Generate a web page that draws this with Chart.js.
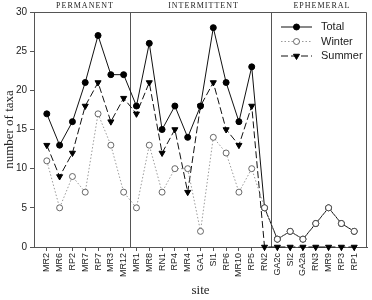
<!DOCTYPE html>
<html>
<head>
<meta charset="utf-8">
<script src="https://cdn.jsdelivr.net/npm/chart.js@4.4.0/dist/chart.umd.min.js"></script>
<style>
    html, body { margin: 0; padding: 0; background: #fff; }
    #wrap { width: 372px; height: 300px; position: relative; }
</style>
</head>
<body>
<div id="wrap"><canvas id="taxaChart"></canvas></div>
<script>
// Sites along the x axis, grouped by stream type
const sites = ['MR2', 'MR6', 'RP2', 'MR7', 'RP7', 'MR3', 'MR12',
               'MR1', 'MR8', 'RN1', 'RP4', 'MR4', 'GA1', 'SI1', 'RP6', 'MR10', 'RP5', 'RN2',
               'GA2c', 'SI2', 'GA2a', 'RN3', 'MR9', 'RP3', 'RP1'];
const totalTaxa  = [17, 13, 16, 21, 27, 22, 22, 18, 26, 15, 18, 14, 18, 28, 21, 16, 23, 5, 1, 2, 1, 3, 5, 3, 2];
const winterTaxa = [11, 5, 9, 7, 17, 13, 7, 5, 13, 7, 10, 10, 2, 14, 12, 7, 10, 5, 1, 2, 1, 3, 5, 3, 2];
const summerTaxa = [13, 9, 12, 18, 21, 16, 19, 17, 21, 12, 15, 7, 18, 21, 15, 13, 18, 0, 0, 0, 0, 0, 0, 0, 0];
const yTicks = [0, 5, 10, 15, 20, 25, 30];
const sections = ['PERMANENT', 'INTERMITTENT', 'EPHEMERAL'];
const sectionBreaks = [6.5, 17.5];

const axisColor = '#555';
const textColor = '#222';

function toPoints(values) {
    return values.map((v, i) => ({ x: i, y: v }));
}

// frame, section dividers, section names and the legend
const decorPlugin = {
    id: 'decor',
    beforeDatasetsDraw(chart) {
        const ctx = chart.ctx;
        const area = chart.chartArea;
        const xs = chart.scales.x;
        ctx.save();
        ctx.strokeStyle = axisColor;
        ctx.lineWidth = 1;
        ctx.beginPath();
        ctx.moveTo(area.left, area.top + 0.5);
        ctx.lineTo(area.right - 0.5, area.top + 0.5);
        ctx.lineTo(area.right - 0.5, area.bottom);
        sectionBreaks.forEach(b => {
            const px = Math.round(xs.getPixelForValue(b)) + 0.5;
            ctx.moveTo(px, area.top);
            ctx.lineTo(px, area.bottom);
        });
        ctx.stroke();

        const edges = [xs.min].concat(sectionBreaks, [xs.max]);
        ctx.fillStyle = textColor;
        ctx.font = "8px 'Liberation Serif'";
        ctx.textAlign = 'center';
        ctx.textBaseline = 'alphabetic';
        if ('letterSpacing' in ctx) ctx.letterSpacing = '1px';
        sections.forEach((name, i) => {
            const mid = (xs.getPixelForValue(edges[i]) + xs.getPixelForValue(edges[i + 1])) / 2;
            ctx.fillText(name, mid + 3, 8);
        });
        ctx.restore();
    },
    afterDraw(chart) {
        const ctx = chart.ctx;
        const area = chart.chartArea;
        const x0 = area.right - 86;
        ctx.save();
        chart.data.datasets.forEach((ds, i) => {
            const y = area.top + 15 + i * 14.5;
            ctx.strokeStyle = ds.borderColor;
            ctx.lineWidth = 1;
            ctx.setLineDash(ds.borderDash || []);
            ctx.beginPath();
            ctx.moveTo(x0, y);
            ctx.lineTo(x0 + 31, y);
            ctx.stroke();
            ctx.setLineDash([]);
            ctx.fillStyle = ds.pointBackgroundColor;
            ctx.strokeStyle = ds.pointBorderColor;
            ctx.lineWidth = ds.pointBorderWidth;
            Chart.helpers.drawPoint(ctx, {
                pointStyle: ds.pointStyle,
                radius: ds.pointRadius,
                rotation: ds.rotation || 0,
                borderWidth: ds.pointBorderWidth
            }, x0 + 15.5, y);
            ctx.fillStyle = textColor;
            ctx.font = "11px 'Liberation Sans'";
            ctx.textAlign = 'left';
            ctx.textBaseline = 'middle';
            ctx.fillText(ds.label, x0 + 40, y);
        });
        ctx.restore();
    }
};

new Chart(document.getElementById('taxaChart'), {
    type: 'line',
    data: {
        datasets: [{
            label: 'Total',
            data: toPoints(totalTaxa),
            borderColor: '#111',
            borderWidth: 1,
            pointStyle: 'circle',
            pointRadius: 3,
            pointBackgroundColor: '#000',
            pointBorderColor: '#000',
            pointBorderWidth: 1,
            order: 1
        }, {
            label: 'Winter',
            data: toPoints(winterTaxa),
            borderColor: '#999',
            borderWidth: 1,
            borderDash: [1.5, 2],
            pointStyle: 'circle',
            pointRadius: 3,
            pointBackgroundColor: '#fff',
            pointBorderColor: '#444',
            pointBorderWidth: 0.8,
            order: 0
        }, {
            label: 'Summer',
            data: toPoints(summerTaxa),
            borderColor: '#111',
            borderWidth: 1,
            borderDash: [7, 3],
            pointStyle: 'triangle',
            rotation: 180,
            pointRadius: 3.5,
            pointBackgroundColor: '#000',
            pointBorderColor: '#000',
            pointBorderWidth: 1,
            order: 2
        }]
    },
    options: {
        responsive: true,
        maintainAspectRatio: false,
        animation: false,
        clip: false,
        layout: { padding: { top: 12, right: 1, left: 0, bottom: 0 } },
        plugins: {
            legend: { display: false },
            tooltip: { enabled: false }
        },
        elements: { line: { tension: 0 } },
        scales: {
            x: {
                type: 'linear',
                min: -1,
                max: 25,
                afterBuildTicks: scale => {
                    scale.ticks = sites.map((s, i) => ({ value: i }));
                },
                afterFit: scale => { scale.height = 53; },
                ticks: {
                    autoSkip: false,
                    maxRotation: 90,
                    minRotation: 90,
                    padding: 2,
                    color: textColor,
                    font: { family: 'Liberation Sans', size: 9 },
                    callback: value => sites[value]
                },
                grid: { drawOnChartArea: false, drawTicks: true, tickLength: 4, color: axisColor },
                border: { color: axisColor },
                title: {
                    display: true,
                    text: 'site',
                    color: textColor,
                    font: { family: 'Liberation Serif', size: 13 },
                    padding: { top: 0, bottom: 2 }
                }
            },
            y: {
                min: 0,
                max: 30,
                afterBuildTicks: scale => {
                    scale.ticks = yTicks.map(v => ({ value: v }));
                },
                afterFit: scale => { scale.width = 34; },
                ticks: {
                    padding: 3,
                    color: textColor,
                    font: { family: 'Liberation Sans', size: 10 }
                },
                grid: { drawOnChartArea: false, drawTicks: true, tickLength: 4, color: axisColor },
                border: { color: axisColor },
                title: {
                    display: true,
                    text: 'number of taxa',
                    color: textColor,
                    font: { family: 'Liberation Serif', size: 13 },
                    padding: { top: 2, bottom: 0 }
                }
            }
        }
    },
    plugins: [decorPlugin]
});
</script>
</body>
</html>
